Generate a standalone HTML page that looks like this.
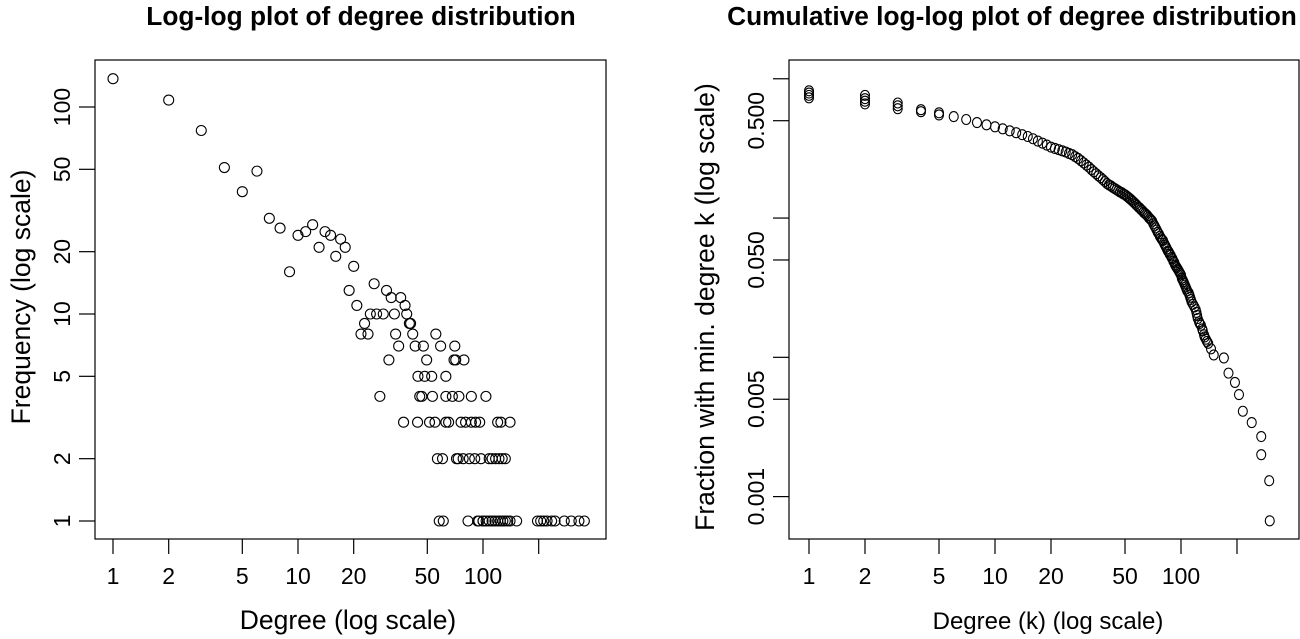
<!DOCTYPE html>
<html><head><meta charset="utf-8"><style>
body{margin:0;background:#fff;}
svg{display:block;font-family:"Liberation Sans",Arial,sans-serif;}
</style></head><body>
<svg id="chart" width="1300" height="639" viewBox="0 0 1300 639" xmlns="http://www.w3.org/2000/svg">
<g id="left"></g>
<g id="right"></g>
</svg>
<script>
// Left chart data: degree vs frequency
const leftDegrees = [1,2,3,4,5,6,7,8,9,10,11,12,13,14,15,16,17,18,18.9,20,20.8,21.9,22.9,23.9,24.6,25.8,26.6,27.7,28.9,30.1,31,31.9,33.2,33.7,35,35.9,37.2,37.9,38.7,40,40.6,41.7,43,44.3,44.5,45.5,46.7,47.6,48.4,49.6,51.4,52.8,53.3,55,55.6,56.7,58,59,60.4,61,63,63,63,65.2,68.3,69.7,71.2,70.4,71.9,74.1,73.4,76.1,78.9,78.1,80.5,83,84.4,86.5,86.5,90.2,91.2,93.5,96,97.5,100,103.7,95,100,104,108,112,116,120,124,128,132,136,140,108,112,117,122,127,132,140,120,125,152,197,205,213,222,235,245,275,300,330,353];
const leftFreqs = [137,108,77,51,39,49,29,26,16,24,25,27,21,25,24,19,23,21,13,17,11,8,9,8,10,14,10,4,10,13,6,12,10,8,7,12,3,11,10,9,9,8,7,3,5,4,4,7,5,6,3,5,4,3,8,2,1,7,2,1,5,3,4,3,4,6,6,7,2,4,2,3,6,2,3,1,2,4,3,2,3,1,3,2,1,4,1,1,1,1,1,1,1,1,1,1,1,1,2,2,2,2,2,2,3,3,3,1,1,1,1,1,1,1,1,1,1,1];
const leftXTicks = [1,2,5,10,20,50,100,200];
const leftXTickLabels = ["1","2","5","10","20","50","100",""];
const leftYTicks = [1,2,5,10,20,50,100];
const leftYTickLabels = ["1","2","5","10","20","50","100"];

// Right chart data: degree k vs fraction with min degree k
const rightDegrees = [1,1,1,1,2,2,2,2,3,3,3,4,4,5,5,6,7,8,9,10,11,12,13,14,15,16,17,18,19,20,21,22,23,24,25,
26,27,28,29,30,31,32,33,34,35,36,37,38,39,40,41,42,43,44,45,46,47,48,49,50,51,52,53,54,55,56,57,58,59,60,61,62,63,64,65,66,67,68,69,70,71,72,73,74,75,76,77,78,79,80,81,82,83,84,85,86,87,88,89,90,91,92,93,94,95,96,97,98,99,100,101,102,103,104,105,106,107,108,110,111,112,113,114,116,118,120,121,122,123,125,126,128,130,131,133,134,136,138,140,
145,150,170,180,195,205,215,240,270,270,298,300];
const rightFracs = [0.82,0.79,0.76,0.73,0.76,0.72,0.69,0.66,0.67,0.64,0.61,0.6,0.58,0.57,0.55,0.535,0.51,0.485,0.467,0.452,0.437,0.423,0.41,0.397,0.385,0.371,0.357,0.345,0.334,0.323,0.316,0.31,0.304,0.298,0.291,
0.285,0.276,0.268,0.258,0.249,0.24,0.232,0.223,0.215,0.208,0.201,0.195,0.189,0.183,0.177,0.173,0.17,0.166,0.163,0.16,0.157,0.154,0.152,0.149,0.147,0.144,0.141,0.138,0.135,0.132,0.129,0.126,0.123,0.12,0.118,0.115,0.113,0.11,0.108,0.106,0.104,0.101,0.099,0.097,0.095,0.091,0.088,0.085,0.082,0.079,0.077,0.074,0.072,0.07,0.069,0.066,0.064,0.062,0.06,0.058,0.057,0.055,0.054,0.052,0.051,0.049,0.048,0.046,0.045,0.044,0.043,0.042,0.041,0.04,0.039,0.037,0.036,0.035,0.034,0.033,0.032,0.031,0.03,0.029,0.028,0.027,0.026,0.025,0.024,0.023,0.022,0.021,0.02,0.019,0.018,0.0175,0.017,0.016,0.0155,0.0145,0.014,0.0135,0.013,0.0126,
0.0115,0.0104,0.0099,0.0077,0.0066,0.0054,0.0041,0.0034,0.0027,0.002,0.0013,0.00067];
const rightXTicks = [1,2,5,10,20,50,100,200];
const rightXTickLabels = ["1","2","5","10","20","50","100",""];
const rightYTicks = [1,0.5,0.1,0.05,0.01,0.005,0.001];
const rightYTickLabels = ["","0.500","","0.050","","0.005","0.001"];

const NS = "http://www.w3.org/2000/svg";
function mk(tag, attrs, parent){const e=document.createElementNS(NS,tag);for(const k in attrs)e.setAttribute(k,attrs[k]);parent.appendChild(e);return e;}
function logScale(v0,p0,v1,p1){return v=>p0+(Math.log10(v)-Math.log10(v0))*(p1-p0)/(Math.log10(v1)-Math.log10(v0));}

function drawPanel(g, o){
  const x=logScale(o.xv0,o.xp0,o.xv1,o.xp1), y=logScale(o.yv0,o.yp0,o.yv1,o.yp1);
  const t=mk('text',{x:o.titleX,y:25,'text-anchor':'middle','font-size':26.3,'font-weight':'bold'},g);
  t.textContent=o.title;
  
  
  const box=mk('rect',{x:o.bx0,y:60,width:o.bx1-o.bx0,height:479,fill:'none',stroke:'#000','stroke-width':1.2},g);
  
  
  const xa=mk('g',{},g);
  
  
  o.xt.forEach((v,i)=>{const px=x(v);
    mk('line',{x1:px,x2:px,y1:539,y2:554,stroke:'#000','stroke-width':1.2},xa);
    const tl=mk('text',{x:px,y:584,'text-anchor':'middle','font-size':23},xa);
    tl.textContent=o.xl[i];
    
    });
  const ya=mk('g',{},g);
  
  
  const ax=o.bx0;
  o.yt.forEach((v,i)=>{const py=y(v);
    mk('line',{x1:ax,x2:ax-16,y1:py,y2:py,stroke:'#000','stroke-width':1.2},ya);
    const tl=mk('text',{x:0,y:0,'text-anchor':'middle','font-size':23,transform:`translate(${ax-25},${py}) rotate(-90)`},ya);
    tl.textContent=o.yl[i];
    
    });
  const xt=mk('text',{x:o.xTitleX,y:629,'text-anchor':'middle','font-size':o.xTitleSize},g);
  xt.textContent=o.xTitle;
  
  
  const yt=mk('text',{x:0,y:0,'text-anchor':'middle','font-size':26.5,transform:`translate(${o.yTitleX},${o.yTitleY}) rotate(-90)`},g);
  yt.textContent=o.yTitle;
  
  
  const pts=mk('g',{},g);
  
  
  o.xs.forEach((v,i)=>{
    const c=mk('ellipse',{cx:x(v),cy:y(o.ys[i]),rx:o.rx,ry:5,fill:'none',stroke:'#000','stroke-width':1.1},pts);
    
    
  });
}
drawPanel(document.getElementById('left'),{prefix:'left',title:'Log-log plot of degree distribution',titleX:361,
  bx0:95,bx1:606,xv0:1,xp0:113,xv1:100,xp1:483,yv0:1,yp0:521,yv1:100,yp1:107,
  xt:leftXTicks,xl:leftXTickLabels,yt:leftYTicks,yl:leftYTickLabels,
  xTitle:'Degree (log scale)',xTitleX:348,xTitleSize:26.5,yTitle:'Frequency (log scale)',yTitleX:30,yTitleY:297,
  xs:leftDegrees,ys:leftFreqs,rx:5});
drawPanel(document.getElementById('right'),{prefix:'right',title:'Cumulative log-log plot of degree distribution',titleX:1012,
  bx0:789,bx1:1299,xv0:1,xp0:809,xv1:100,xp1:1181,yv0:0.5,yp0:120.7,yv1:0.001,yp1:496.6,
  xt:rightXTicks,xl:rightXTickLabels,yt:rightYTicks,yl:rightYTickLabels,
  xTitle:'Degree (k) (log scale)',xTitleX:1048,xTitleSize:24,yTitle:'Fraction with min. degree k (log scale)',yTitleX:714,yTitleY:307,
  xs:rightDegrees,ys:rightFracs,rx:4.5});
</script>
</body></html>
